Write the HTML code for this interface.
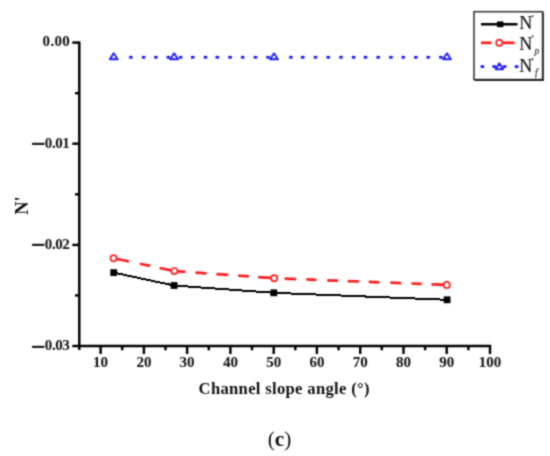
<!DOCTYPE html>
<html>
<head>
<meta charset="utf-8">
<style>
html,body{margin:0;padding:0;background:#fff;}
body{width:550px;height:456px;overflow:hidden;position:relative;}
svg{position:absolute;left:0;top:0;}
.tl{font-family:"Liberation Serif",serif;font-weight:bold;font-size:15px;fill:#1c1c1c;stroke:#1c1c1c;stroke-width:0.12px;}
.ax{font-family:"Liberation Serif",serif;font-weight:bold;fill:#111;}
.lg{font-family:"Liberation Serif",serif;font-size:17.5px;fill:#141414;stroke:#141414;stroke-width:0.2px;}
.cap{font-family:"Liberation Serif",serif;font-size:21.3px;fill:#111;}
</style>
</head>
<body>
<svg width="550" height="456" viewBox="0 0 550 456">
<defs><filter id="soft" x="0" y="0" width="550" height="456" filterUnits="userSpaceOnUse" color-interpolation-filters="sRGB"><feConvolveMatrix order="3" kernelMatrix="1 3 1 3 9 3 1 3 1" edgeMode="duplicate"/></filter></defs>
<g filter="url(#soft)">
<rect x="0" y="0" width="550" height="456" fill="#fff"/>

<g stroke="#000" stroke-width="2.45" fill="none">
<line x1="79.3" y1="41.5" x2="79.3" y2="350"/>
<line x1="78.2" y1="346" x2="491.1" y2="346"/>
<line x1="72.3" y1="42.6" x2="79.3" y2="42.6"/>
<line x1="72.3" y1="143.7" x2="79.3" y2="143.7"/>
<line x1="72.3" y1="244.9" x2="79.3" y2="244.9"/>
<line x1="72.3" y1="346.0" x2="79.3" y2="346.0"/>
<line x1="75.0" y1="93.2" x2="79.3" y2="93.2"/>
<line x1="75.0" y1="194.3" x2="79.3" y2="194.3"/>
<line x1="75.0" y1="295.4" x2="79.3" y2="295.4"/>
<line x1="100.6" y1="345" x2="100.6" y2="354"/>
<line x1="143.9" y1="345" x2="143.9" y2="354"/>
<line x1="187.1" y1="345" x2="187.1" y2="354"/>
<line x1="230.4" y1="345" x2="230.4" y2="354"/>
<line x1="273.7" y1="345" x2="273.7" y2="354"/>
<line x1="316.9" y1="345" x2="316.9" y2="354"/>
<line x1="360.2" y1="345" x2="360.2" y2="354"/>
<line x1="403.5" y1="345" x2="403.5" y2="354"/>
<line x1="446.7" y1="345" x2="446.7" y2="354"/>
<line x1="490.0" y1="345" x2="490.0" y2="354"/>
<line x1="122.2" y1="346" x2="122.2" y2="350.3"/>
<line x1="165.5" y1="346" x2="165.5" y2="350.3"/>
<line x1="208.8" y1="346" x2="208.8" y2="350.3"/>
<line x1="252.0" y1="346" x2="252.0" y2="350.3"/>
<line x1="295.3" y1="346" x2="295.3" y2="350.3"/>
<line x1="338.6" y1="346" x2="338.6" y2="350.3"/>
<line x1="381.8" y1="346" x2="381.8" y2="350.3"/>
<line x1="425.1" y1="346" x2="425.1" y2="350.3"/>
<line x1="468.4" y1="346" x2="468.4" y2="350.3"/>
</g>
<g class="tl" text-anchor="end">
<text x="70.2" y="45.8" letter-spacing="0.35">0.00</text>
<text x="69.3" y="147.5"><tspan font-family="DejaVu Sans" font-size="19.5" dy="2.7">&#8722;</tspan><tspan dx="-1.6" dy="-2.7" letter-spacing="-0.45">0.01</tspan></text>
<text x="69.3" y="248.7"><tspan font-family="DejaVu Sans" font-size="19.5" dy="2.7">&#8722;</tspan><tspan dx="-1.6" dy="-2.7" letter-spacing="-0.45">0.02</tspan></text>
<text x="69.3" y="349.8"><tspan font-family="DejaVu Sans" font-size="19.5" dy="2.7">&#8722;</tspan><tspan dx="-1.6" dy="-2.7" letter-spacing="-0.45">0.03</tspan></text>
</g>
<g class="tl" text-anchor="middle">
<text x="100.6" y="367">10</text>
<text x="143.9" y="367">20</text>
<text x="187.1" y="367">30</text>
<text x="230.4" y="367">40</text>
<text x="273.7" y="367">50</text>
<text x="316.9" y="367">60</text>
<text x="360.2" y="367">70</text>
<text x="403.5" y="367">80</text>
<text x="446.7" y="367">90</text>
<text x="490.0" y="367">100</text>
</g>
<text class="ax" font-size="16.6" letter-spacing="0.32" x="284.2" y="393.7" text-anchor="middle">Channel slope angle (°)</text>
<text class="ax" font-size="18.5" transform="translate(27.6,205.5) rotate(-90)" text-anchor="middle">N'</text>
<g stroke="#1f1fff" stroke-width="2.8">
<line x1="129.1" y1="57.3" x2="132.7" y2="57.3"/>
<line x1="141.8" y1="57.3" x2="145.4" y2="57.3"/>
<line x1="154.1" y1="57.3" x2="157.7" y2="57.3"/>
<line x1="166.5" y1="57.3" x2="170.1" y2="57.3"/>
<line x1="178.8" y1="57.3" x2="182.4" y2="57.3"/>
<line x1="190.9" y1="57.3" x2="194.5" y2="57.3"/>
<line x1="203.7" y1="57.3" x2="207.3" y2="57.3"/>
<line x1="215.5" y1="57.3" x2="219.1" y2="57.3"/>
<line x1="228.2" y1="57.3" x2="231.8" y2="57.3"/>
<line x1="240.9" y1="57.3" x2="244.5" y2="57.3"/>
<line x1="253.7" y1="57.3" x2="257.3" y2="57.3"/>
<line x1="266.2" y1="57.3" x2="269.8" y2="57.3"/>
<line x1="289.1" y1="57.3" x2="292.7" y2="57.3"/>
<line x1="300.9" y1="57.3" x2="304.5" y2="57.3"/>
<line x1="313.7" y1="57.3" x2="317.3" y2="57.3"/>
<line x1="326.4" y1="57.3" x2="330.0" y2="57.3"/>
<line x1="339.2" y1="57.3" x2="342.8" y2="57.3"/>
<line x1="351.8" y1="57.3" x2="355.4" y2="57.3"/>
<line x1="363.7" y1="57.3" x2="367.3" y2="57.3"/>
<line x1="376.4" y1="57.3" x2="380.0" y2="57.3"/>
<line x1="389.1" y1="57.3" x2="392.7" y2="57.3"/>
<line x1="401.5" y1="57.3" x2="405.1" y2="57.3"/>
<line x1="414.0" y1="57.3" x2="417.6" y2="57.3"/>
<line x1="426.4" y1="57.3" x2="430.0" y2="57.3"/>
<line x1="439.1" y1="57.3" x2="442.7" y2="57.3"/>
</g>
<g fill="#fff" stroke="#1f1fff" stroke-width="1.9" stroke-linejoin="round">
<polygon points="113.7,53.3 109.8,59.3 117.6,59.3"/>
<polygon points="174.1,53.3 170.2,59.3 178.0,59.3"/>
<polygon points="274.0,53.3 270.1,59.3 277.9,59.3"/>
<polygon points="447.0,53.3 443.1,59.3 450.9,59.3"/>
</g>
<g stroke="#ff1f1f" stroke-width="2.7" fill="none">
<polyline points="113.6,258.2 129.1,261.5"/>
<polyline points="139.9,263.8 150.1,265.9"/>
<polyline points="159.6,268.0 174.4,271.1"/>
<polyline points="174.4,271.1 185.5,271.9"/>
<polyline points="195.5,272.6 206.4,273.4"/>
<polyline points="216.4,274.1 228.2,274.9"/>
<polyline points="238.2,275.6 249.0,276.4"/>
<polyline points="258.2,277.1 274.2,278.2"/>
<polyline points="284.6,278.6 296.1,279.1"/>
<polyline points="306.3,279.4 316.5,279.8"/>
<polyline points="327.3,280.3 338.1,280.7"/>
<polyline points="347.7,281.1 359.2,281.5"/>
<polyline points="368.7,281.9 379.5,282.3"/>
<polyline points="390.4,282.7 401.2,283.1"/>
<polyline points="411.4,283.5 421.7,283.9"/>
<polyline points="431.5,284.3 446.8,284.9"/>
</g>
<g fill="#fff" stroke="#ff1f1f" stroke-width="1.7">
<circle cx="113.6" cy="258.2" r="3.1"/>
<circle cx="174.4" cy="271.1" r="3.1"/>
<circle cx="274.2" cy="278.2" r="3.1"/>
<circle cx="446.8" cy="284.9" r="3.1"/>
</g>
<polyline points="113.7,272.6 174.1,285.5 273.8,292.8 447.1,299.8" fill="none" stroke="#000" stroke-width="2" shape-rendering="crispEdges"/>
<g fill="#000">
<rect x="110.3" y="269.2" width="6.8" height="6.8"/>
<rect x="170.7" y="282.1" width="6.8" height="6.8"/>
<rect x="270.4" y="289.4" width="6.8" height="6.8"/>
<rect x="443.7" y="296.4" width="6.8" height="6.8"/>
</g>
<rect x="474" y="11.7" width="68.6" height="67.9" fill="#fff" stroke="#3a3a3a" stroke-width="1.6"/>
<line x1="474.8" y1="80.1" x2="543.6" y2="80.1" stroke="#222" stroke-width="1.6"/>
<line x1="543.2" y1="12.5" x2="543.2" y2="80.8" stroke="#222" stroke-width="1.2"/>
<line x1="481" y1="24.2" x2="517.5" y2="24.2" stroke="#000" stroke-width="2.4"/>
<rect x="497" y="21.4" width="6.4" height="5.8" fill="#000"/>
<line x1="481" y1="42.8" x2="491.5" y2="42.8" stroke="#ff1f1f" stroke-width="2.7"/>
<line x1="503" y1="42.8" x2="514.5" y2="42.8" stroke="#ff1f1f" stroke-width="2.7"/>
<circle cx="499.3" cy="42.8" r="3.1" fill="#fff" stroke="#ff1f1f" stroke-width="1.7"/>
<g stroke="#1f1fff" stroke-width="2.8">
<line x1="480.59999999999997" y1="66.6" x2="484.2" y2="66.6"/>
<line x1="492.4" y1="66.6" x2="496.0" y2="66.6"/>
<line x1="502.8" y1="66.6" x2="506.40000000000003" y2="66.6"/>
<line x1="514.8000000000001" y1="66.6" x2="518.4" y2="66.6"/>
</g>
<polygon points="499.3,63.3 495.6,69.2 503.0,69.2" fill="#fff" stroke="#1f1fff" stroke-width="1.9" stroke-linejoin="round"/>
<g class="lg">
<text x="519.2" y="29.3" font-size="18">N<tspan dx="-0.4" dy="-7.4" font-size="10.5">'</tspan></text>
<text x="519.2" y="49.5" font-size="18">N<tspan dx="-0.4" dy="-7.4" font-size="10.5">'</tspan></text>
<text x="519.2" y="72.4" font-size="18">N<tspan dx="-0.4" dy="-7.4" font-size="10.5">'</tspan></text>
<text x="534.6" y="54.4" font-size="9.5" font-style="italic" fill="#556">p</text>
<text x="535" y="76.2" font-size="9.5" font-style="italic" fill="#556">f</text>
</g>
<text class="cap" x="279.6" y="446.2" text-anchor="middle">(<tspan font-weight="bold">c</tspan>)</text>
</g>
</svg>
</body>
</html>
